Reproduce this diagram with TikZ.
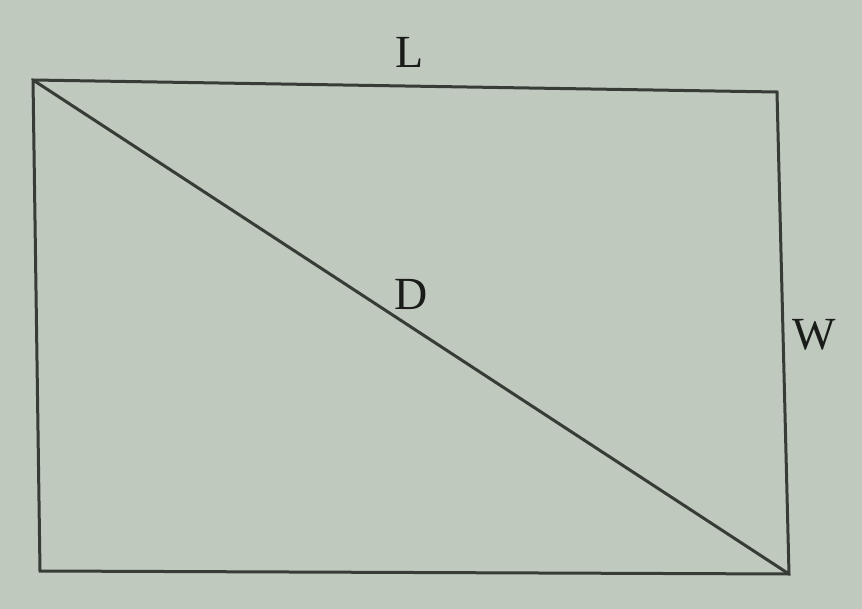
\documentclass[tikz,border=0pt]{standalone}
\usepackage{fontspec}
\setmainfont{Liberation Serif}
\definecolor{bg}{RGB}{192,201,190}
\definecolor{ink}{RGB}{55,60,55}
\definecolor{txt}{RGB}{25,28,25}
\tikzset{edge/.style={draw=ink,line width=1.5pt,line join=miter},
  lbl/.style={text=txt,font=\fontsize{23}{23}\selectfont,inner sep=0pt}}
\begin{document}
\begin{tikzpicture}[x=0.5pt,y=-0.5pt]
\fill[bg] (0,0) rectangle (862,609);
\useasboundingbox (0,0) rectangle (862,609);
\coordinate (tl) at (33,80);
\coordinate (tr) at (777,92);
\coordinate (br) at (789,574);
\coordinate (bl) at (40,571);
\draw[edge] (tl) -- (tr) -- (br) -- (bl) -- cycle;
\draw[edge] (tl) -- (br);
\node[lbl] (L) at (410,52) {L};
\node[lbl] (D) at (411,294) {D};
\node[lbl] (W) at (814,335) {W};
\end{tikzpicture}
\end{document}
